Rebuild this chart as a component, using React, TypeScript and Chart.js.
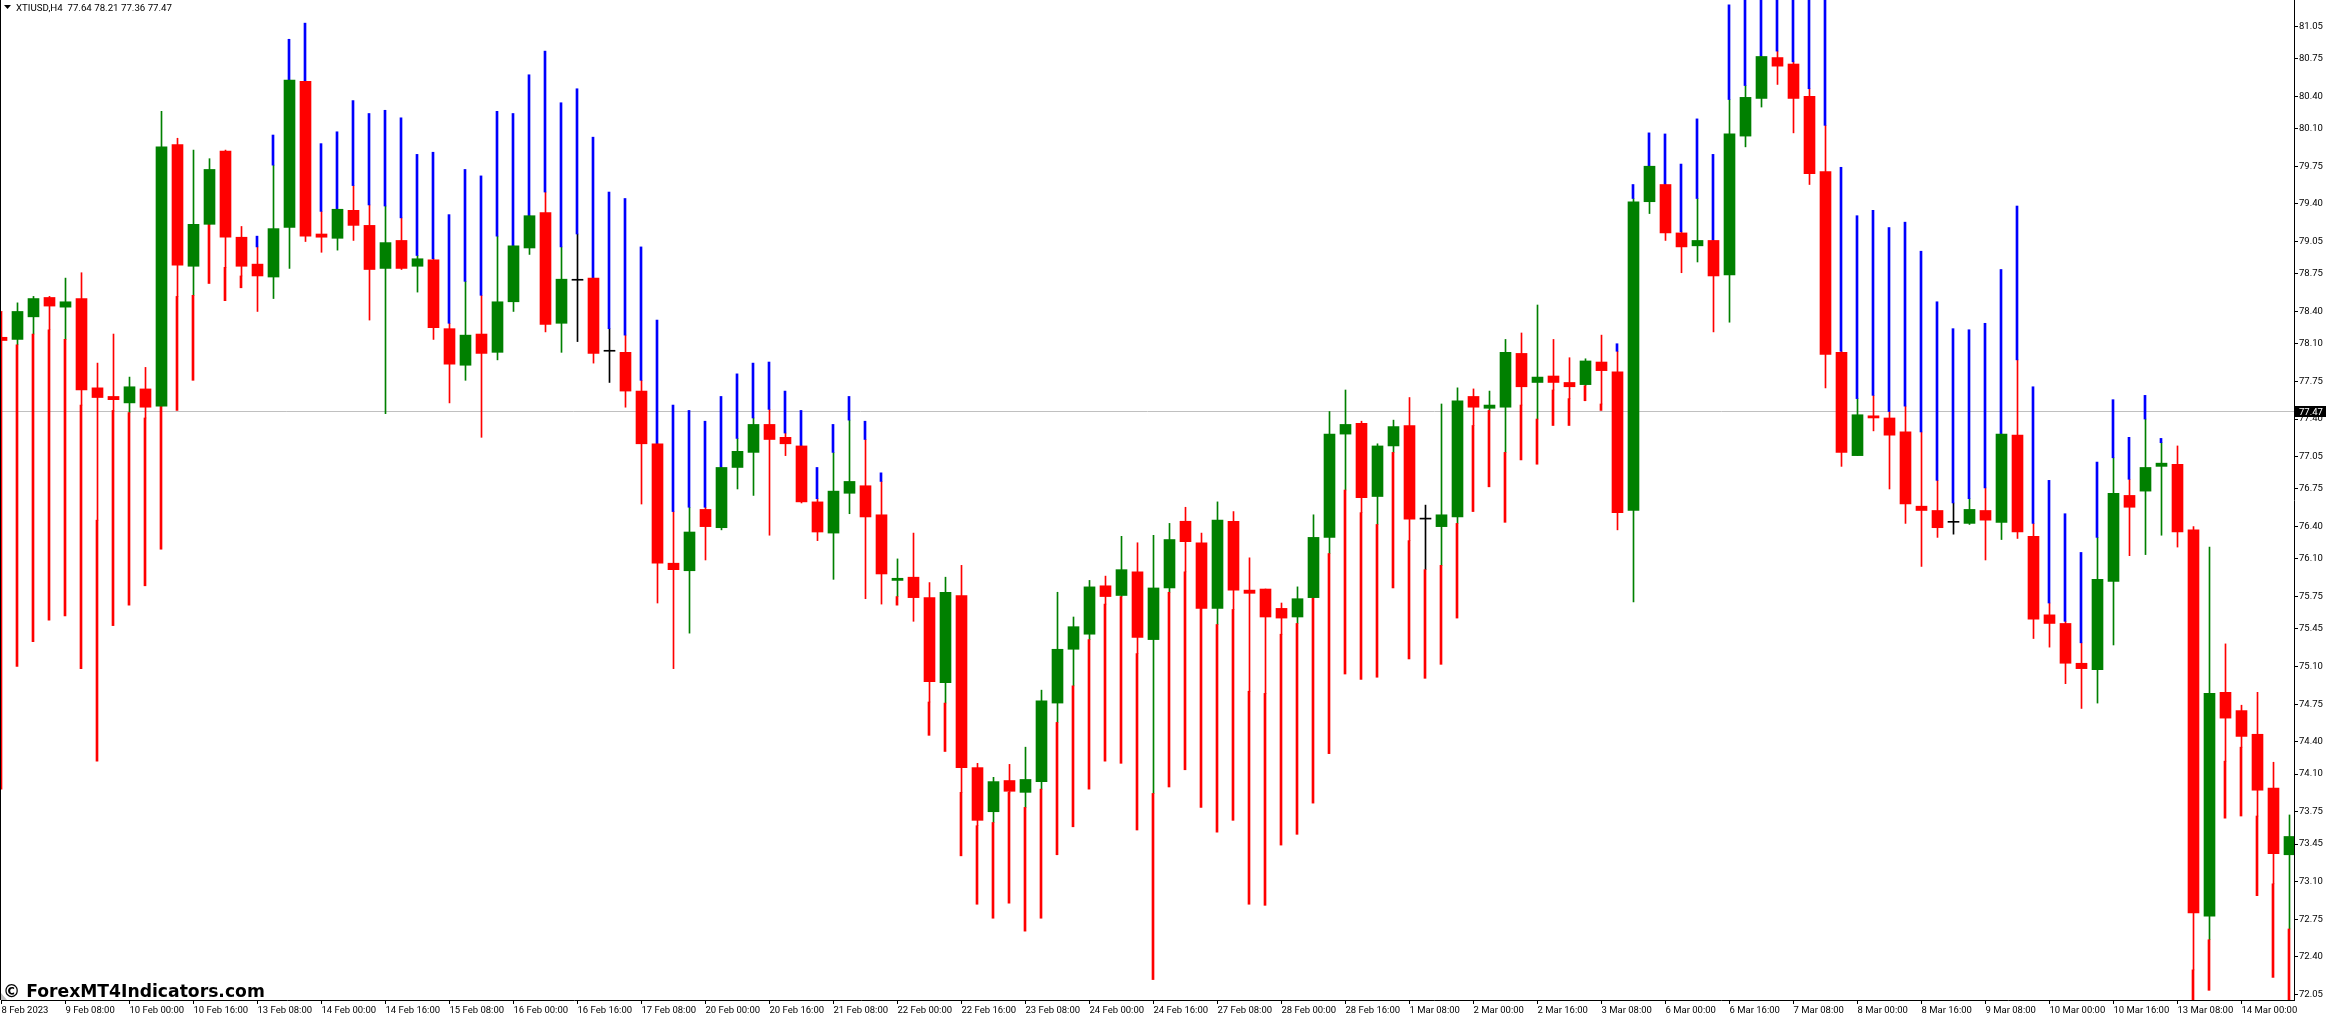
import { useEffect, useRef } from "react"
import { Chart, registerables } from "chart.js"

Chart.register(...registerables)

// one label every 4 bars, first one sits on bar 0
const timeLabels = [
  "8 Feb 2023", "9 Feb 08:00", "10 Feb 00:00", "10 Feb 16:00", "13 Feb 08:00", "14 Feb 00:00",
  "14 Feb 16:00", "15 Feb 08:00", "16 Feb 00:00", "16 Feb 16:00", "17 Feb 08:00", "20 Feb 00:00",
  "20 Feb 16:00", "21 Feb 08:00", "22 Feb 00:00", "22 Feb 16:00", "23 Feb 08:00", "24 Feb 00:00",
  "24 Feb 16:00", "27 Feb 08:00", "28 Feb 00:00", "28 Feb 16:00", "1 Mar 08:00", "2 Mar 00:00",
  "2 Mar 16:00", "3 Mar 08:00", "6 Mar 00:00", "6 Mar 16:00", "7 Mar 08:00", "8 Mar 00:00",
  "8 Mar 16:00", "9 Mar 08:00", "10 Mar 00:00", "10 Mar 16:00", "13 Mar 08:00", "14 Mar 00:00",
]

const priceTicks = [
  81.05, 80.75, 80.4, 80.1, 79.75, 79.4, 79.05, 78.75, 78.4, 78.1, 77.75, 77.4, 77.05, 76.75, 76.4,
  76.1, 75.75, 75.45, 75.1, 74.75, 74.4, 74.1, 73.75, 73.45, 73.1, 72.75, 72.4, 72.05,
]

const lastPrice = 77.47

const opens = [
  78.16, 78.14, 78.35, 78.53, 78.44, 78.52, 77.69, 77.61, 77.55, 77.68,
  77.52, 79.95, 78.82, 79.21, 79.89, 79.09, 78.84, 78.72, 79.18, 80.54,
  79.12, 79.08, 79.34, 79.2, 78.8, 79.06, 78.82, 78.88, 78.24, 77.9,
  78.19, 78.02, 78.49, 78.99, 79.32, 78.29, 78.69, 78.71, 78.03, 78.02,
  77.66, 77.17, 76.06, 75.99, 76.56, 76.39, 76.95, 77.09, 77.35, 77.23,
  77.15, 76.63, 76.34, 76.71, 76.78, 76.51, 75.9, 75.93, 75.74, 74.95,
  75.76, 74.16, 73.75, 74.04, 73.93, 74.03, 74.76, 75.26, 75.4, 75.85,
  75.76, 75.98, 75.35, 75.83, 76.45, 76.25, 75.64, 76.45, 75.81, 75.82,
  75.64, 75.56, 75.74, 76.3, 77.26, 77.36, 76.68, 77.15, 77.34, 76.47,
  76.4, 76.49, 77.61, 77.5, 77.51, 78.01, 77.74, 77.8, 77.74, 77.72,
  77.93, 77.84, 76.55, 79.42, 79.58, 79.13, 79.01, 79.06, 78.74, 80.03,
  80.38, 80.76, 80.7, 80.4, 79.7, 78.02, 77.06, 77.43, 77.41, 77.28,
  76.59, 76.55, 76.44, 76.43, 76.55, 76.44, 77.25, 76.31, 75.58, 75.5,
  75.13, 75.07, 75.89, 76.69, 76.73, 76.96, 76.98, 76.37, 72.78, 74.86,
  74.69, 74.47, 73.97, 73.35,
]

const closes = [
  78.13, 78.4, 78.52, 78.45, 78.49, 77.67, 77.6, 77.58, 77.7, 77.51,
  79.93, 78.83, 79.21, 79.72, 79.09, 78.82, 78.73, 79.17, 80.55, 79.1,
  79.09, 79.35, 79.2, 78.79, 79.04, 78.8, 78.89, 78.25, 77.91, 78.18,
  78.01, 78.49, 79.01, 79.29, 78.28, 78.7, 78.69, 78.01, 78.03, 77.66,
  77.17, 76.06, 76.0, 76.35, 76.4, 76.95, 77.1, 77.35, 77.21, 77.17,
  76.63, 76.35, 76.73, 76.82, 76.49, 75.96, 75.92, 75.74, 74.96, 75.79,
  74.16, 73.67, 74.03, 73.94, 74.05, 74.78, 75.26, 75.47, 75.84, 75.75,
  76.0, 75.37, 75.83, 76.28, 76.26, 75.64, 76.46, 75.81, 75.78, 75.56,
  75.55, 75.73, 76.3, 77.26, 77.35, 76.67, 77.15, 77.33, 76.47, 76.47,
  76.51, 77.57, 77.51, 77.53, 78.02, 77.7, 77.79, 77.74, 77.7, 77.94,
  77.85, 76.53, 79.42, 79.75, 79.13, 79.0, 79.06, 78.73, 80.05, 80.39,
  80.77, 80.68, 80.38, 79.68, 78.0, 77.09, 77.44, 77.41, 77.25, 76.61,
  76.55, 76.39, 76.44, 76.56, 76.46, 77.26, 76.35, 75.54, 75.5, 75.13,
  75.08, 75.91, 76.71, 76.58, 76.95, 76.99, 76.35, 72.81, 74.85, 74.62,
  74.45, 73.95, 73.36, 73.52,
]

const highs = [
  78.4, 78.48, 78.54, 78.54, 78.71, 78.76, 77.92, 78.19, 77.79, 77.88,
  80.26, 80.01, 79.9, 79.82, 79.9, 79.19, 79.0, 79.76, 80.55, 80.54,
  79.33, 79.35, 79.57, 79.39, 79.38, 79.27, 78.92, 78.89, 78.29, 78.68,
  78.55, 79.1, 79.01, 79.29, 79.51, 79.0, 79.12, 78.71, 78.24, 78.18,
  77.76, 77.17, 76.54, 76.58, 76.58, 76.95, 77.22, 77.41, 77.49, 77.27,
  77.15, 76.66, 77.09, 77.39, 77.21, 76.82, 76.1, 76.34, 75.88, 75.93,
  76.04, 74.2, 74.07, 74.19, 74.35, 74.88, 75.79, 75.56, 75.9, 75.94,
  76.31, 76.25, 76.32, 76.43, 76.58, 76.34, 76.63, 76.54, 76.11, 75.82,
  75.69, 75.84, 76.51, 77.47, 77.67, 77.38, 77.17, 77.39, 77.6, 76.6,
  77.54, 77.69, 77.68, 77.66, 78.14, 78.2, 78.46, 78.14, 77.97, 77.96,
  78.18, 78.03, 79.45, 79.75, 79.58, 79.14, 79.45, 79.06, 80.37, 80.5,
  80.77, 80.82, 80.72, 80.47, 80.13, 78.03, 77.59, 77.62, 77.47, 77.52,
  77.28, 76.83, 76.62, 76.66, 76.76, 77.26, 77.95, 76.43, 75.69, 75.52,
  75.32, 76.3, 77.04, 76.84, 77.4, 77.18, 77.15, 76.4, 76.21, 75.31,
  74.74, 74.86, 74.21, 73.72,
]

const lows = [
  78.4, 78.09, 78.19, 78.23, 78.14, 77.53, 76.46, 77.48, 77.46, 77.41,
  77.52, 78.54, 78.55, 79.21, 78.81, 78.73, 78.4, 78.52, 78.8, 79.05,
  78.95, 78.97, 79.06, 78.32, 77.45, 78.79, 78.58, 78.14, 77.55, 77.76,
  77.23, 77.95, 78.4, 78.93, 78.21, 78.02, 78.12, 77.92, 77.74, 77.51,
  76.61, 75.69, 75.08, 75.41, 76.09, 76.37, 76.75, 76.69, 76.32, 77.06,
  76.62, 76.27, 75.91, 76.52, 75.73, 75.68, 75.75, 75.52, 74.77, 74.76,
  73.93, 73.62, 73.65, 73.93, 73.79, 73.96, 74.58, 74.92, 75.35, 75.68,
  75.75, 75.22, 73.92, 75.79, 75.98, 75.64, 75.49, 75.63, 74.87, 74.85,
  75.4, 75.5, 75.74, 76.15, 76.74, 76.53, 76.42, 77.09, 76.27, 76.0,
  76.04, 76.43, 77.34, 77.48, 77.09, 77.53, 77.4, 77.67, 77.59, 77.71,
  77.54, 76.37, 75.7, 79.31, 79.06, 78.76, 78.86, 78.21, 78.3, 79.93,
  80.3, 80.51, 80.06, 79.58, 77.69, 76.96, 77.06, 77.29, 76.75, 76.43,
  76.03, 76.3, 76.33, 76.42, 76.09, 76.28, 76.29, 75.36, 75.28, 74.94,
  74.71, 74.76, 75.3, 76.13, 76.14, 76.32, 76.21, 72.28, 72.56, 74.22,
  74.35, 73.71, 73.08, 72.66,
]

// indicator spikes: blue runs up from the high, red runs down from the low
const blueTips = [
  null, null, null, null, null, null, null, null, null, null,
  null, null, null, null, null, null, 79.1, 80.04, 80.93, 81.08,
  79.96, 80.07, 80.36, 80.24, 80.27, 80.2, 79.86, 79.88, 79.3, 79.72,
  79.66, 80.26, 80.24, 80.6, 80.82, 80.34, 80.47, 80.02, 79.51, 79.45,
  79.0, 78.32, 77.53, 77.48, 77.38, 77.61, 77.82, 77.92, 77.93, 77.66,
  77.48, 76.95, 77.35, 77.61, 77.38, 76.9, null, null, null, null,
  null, null, null, null, null, null, null, null, null, null,
  null, null, null, null, null, null, null, null, null, null,
  null, null, null, null, null, null, null, null, null, null,
  null, null, null, null, null, null, null, null, null, null,
  null, 78.1, 79.58, 80.06, 80.05, 79.77, 80.19, 79.86, 81.25, 81.45,
  81.6, 81.6, 81.5, 81.7, 81.5, 79.74, 79.29, 79.34, 79.18, 79.23,
  78.96, 78.49, 78.24, 78.23, 78.29, 78.79, 79.38, 77.7, 76.83, 76.52,
  76.16, 77.0, 77.58, 77.23, 77.62, 77.22, null, null, null, null,
  null, null, null, null,
]

const redTips = [
  73.96, 75.1, 75.33, 75.53, 75.57, 75.08, 74.22, 75.48, 75.67, 75.85,
  76.19, 77.48, 77.76, 78.66, 78.5, 78.62, null, null, null, null,
  null, null, null, null, null, null, null, null, null, null,
  null, null, null, null, null, null, null, null, null, null,
  null, null, null, null, null, null, null, null, null, null,
  null, null, null, null, null, null, 75.67, null, 74.46, 74.31,
  73.34, 72.89, 72.76, 72.9, 72.64, 72.76, 73.35, 73.61, 73.96, 74.22,
  74.2, 73.58, 72.19, 73.98, 74.14, 73.79, 73.56, 73.67, 72.89, 72.88,
  73.44, 73.54, 73.83, 74.29, 75.03, 74.98, 75.0, 75.83, 75.17, 74.99,
  75.12, 75.55, 76.54, 76.77, 76.44, 77.02, 76.98, 77.34, 77.34, 77.57,
  77.48, null, null, null, null, null, null, null, null, null,
  null, null, null, null, null, null, null, null, null, null,
  null, null, null, null, null, null, null, null, null, null,
  null, null, null, null, null, null, null, 71.8, 72.09, 73.69,
  73.71, 72.97, 72.21, 71.8,
]

const labelFont = { family: "Roboto", size: 9.5 }

const candleColor = (i: number) => {
  if (closes[i] > opens[i]) return "#008000"
  if (closes[i] < opens[i]) return "#ff0000"
  return "#000000"
}

const spikes = (tips: (number | null)[], ends: number[]) =>
  tips.flatMap((tip, i) => (tip === null ? [] : [{ x: i, y: [ends[i], tip] }]))

// the axes must not eat into the plot for their first and last labels
const noLabelPadding = (scale: any) => {
  scale.paddingLeft = 0
  scale.paddingRight = 0
  scale.paddingTop = 0
  scale.paddingBottom = 0
}

const overlayPlugin = {
  id: "overlay",
  afterDraw(chart: Chart) {
    const { ctx, chartArea } = chart
    const y = Math.floor(chart.scales.y.getPixelForValue(lastPrice))
    ctx.save()

    ctx.fillStyle = "#000000"
    ctx.fillRect(0, 0, 1, chartArea.bottom)

    // symbol header with its little arrow
    ctx.beginPath()
    ctx.moveTo(4, 5)
    ctx.lineTo(11, 5)
    ctx.lineTo(7.5, 9)
    ctx.closePath()
    ctx.fill()
    ctx.font = "9.7px Roboto"
    ctx.textAlign = "left"
    ctx.textBaseline = "alphabetic"
    ctx.fillText("XTIUSD,H4  77.64 78.21 77.36 77.47", 16, 11)

    // corner mark and watermark
    ctx.fillStyle = "#c0c0c0"
    ctx.beginPath()
    ctx.moveTo(1, 993)
    ctx.lineTo(7, 1000)
    ctx.lineTo(1, 1000)
    ctx.closePath()
    ctx.fill()
    ctx.fillStyle = "#000000"
    ctx.font = "bold 17.2px 'DejaVu Sans'"
    ctx.fillText("© ForexMT4Indicators.com", 3, 997)

    // current price flag on the axis
    ctx.fillRect(2295, y - 5, 31, 11)
    ctx.fillStyle = "#ffffff"
    ctx.font = "9.5px Roboto"
    ctx.fillText(lastPrice.toFixed(2), 2299, y + 4)
    ctx.restore()
  },
}

export default function App() {
  const chartRef = useRef<HTMLCanvasElement>(null)

  useEffect(() => {
    if (!chartRef.current) return
    document.body.style.margin = "0"

    const chart = new Chart(chartRef.current, {
      type: "bar",
      data: {
        datasets: [
          {
            label: "Candles",
            data: opens.map((open, i) => ({ x: i, y: [open, closes[i]] })),
            backgroundColor: opens.map((_, i) => candleColor(i)),
            barThickness: 11,
            minBarLength: 1,
            grouped: false,
            order: 1,
          },
          {
            label: "Blue spikes",
            data: spikes(blueTips, highs),
            backgroundColor: "#0000ff",
            barThickness: 2,
            grouped: false,
            xAxisID: "xSpike",
            order: 2,
          },
          {
            label: "Red spikes",
            data: spikes(redTips, lows),
            backgroundColor: "#ff0000",
            barThickness: 2,
            grouped: false,
            xAxisID: "xSpike",
            order: 2,
          },
          {
            label: "Wicks",
            data: highs.map((high, i) => ({ x: i, y: [lows[i], high] })),
            backgroundColor: opens.map((_, i) => candleColor(i)),
            barThickness: 1,
            grouped: false,
            order: 3,
          },
          {
            type: "line",
            label: "Last price",
            data: [
              { x: -1, y: lastPrice },
              { x: 144, y: lastPrice },
            ],
            borderColor: "#c0c0c0",
            borderWidth: 1,
            pointRadius: 0,
            order: 4,
          },
        ],
      },
      options: {
        responsive: false,
        devicePixelRatio: 1,
        animation: false,
        events: [],
        layout: { padding: { left: 1 } },
        plugins: {
          legend: { display: false },
          tooltip: { enabled: false },
        },
        scales: {
          x: {
            type: "linear",
            offset: false,
            min: -0.03125,
            max: 143.28125,
            afterBuildTicks: (scale) => {
              scale.ticks = timeLabels.map((_, i) => ({ value: i * 4 }))
            },
            afterFit: (scale) => {
              scale.height = 18
              noLabelPadding(scale)
            },
            grid: { offset: false, drawOnChartArea: false, color: "#000000", tickLength: 4 },
            border: { color: "#000000" },
            ticks: {
              autoSkip: false,
              maxRotation: 0,
              align: "start",
              padding: 1,
              color: "#000000",
              font: labelFont,
              callback: (value) => timeLabels[Number(value) / 4],
            },
          },
          // same bars shifted half a pixel, the 2px spikes sit left of the wick
          xSpike: {
            type: "linear",
            display: false,
            offset: false,
            min: 0,
            max: 143.3125,
          },
          y: {
            position: "right",
            min: 72,
            max: 81.295,
            afterBuildTicks: (scale) => {
              scale.ticks = priceTicks.map((value) => ({ value }))
            },
            afterFit: (scale) => {
              scale.width = 32
              noLabelPadding(scale)
            },
            grid: { drawOnChartArea: false, color: "#000000", tickLength: 4 },
            border: { color: "#000000" },
            ticks: {
              autoSkip: false,
              padding: 1,
              color: "#000000",
              font: labelFont,
              callback: (value) => Number(value).toFixed(2),
            },
          },
        },
      },
      plugins: [overlayPlugin],
    })

    return () => chart.destroy()
  }, [])

  return <canvas ref={chartRef} width={2326} height={1018} style={{ display: "block" }} />
}
